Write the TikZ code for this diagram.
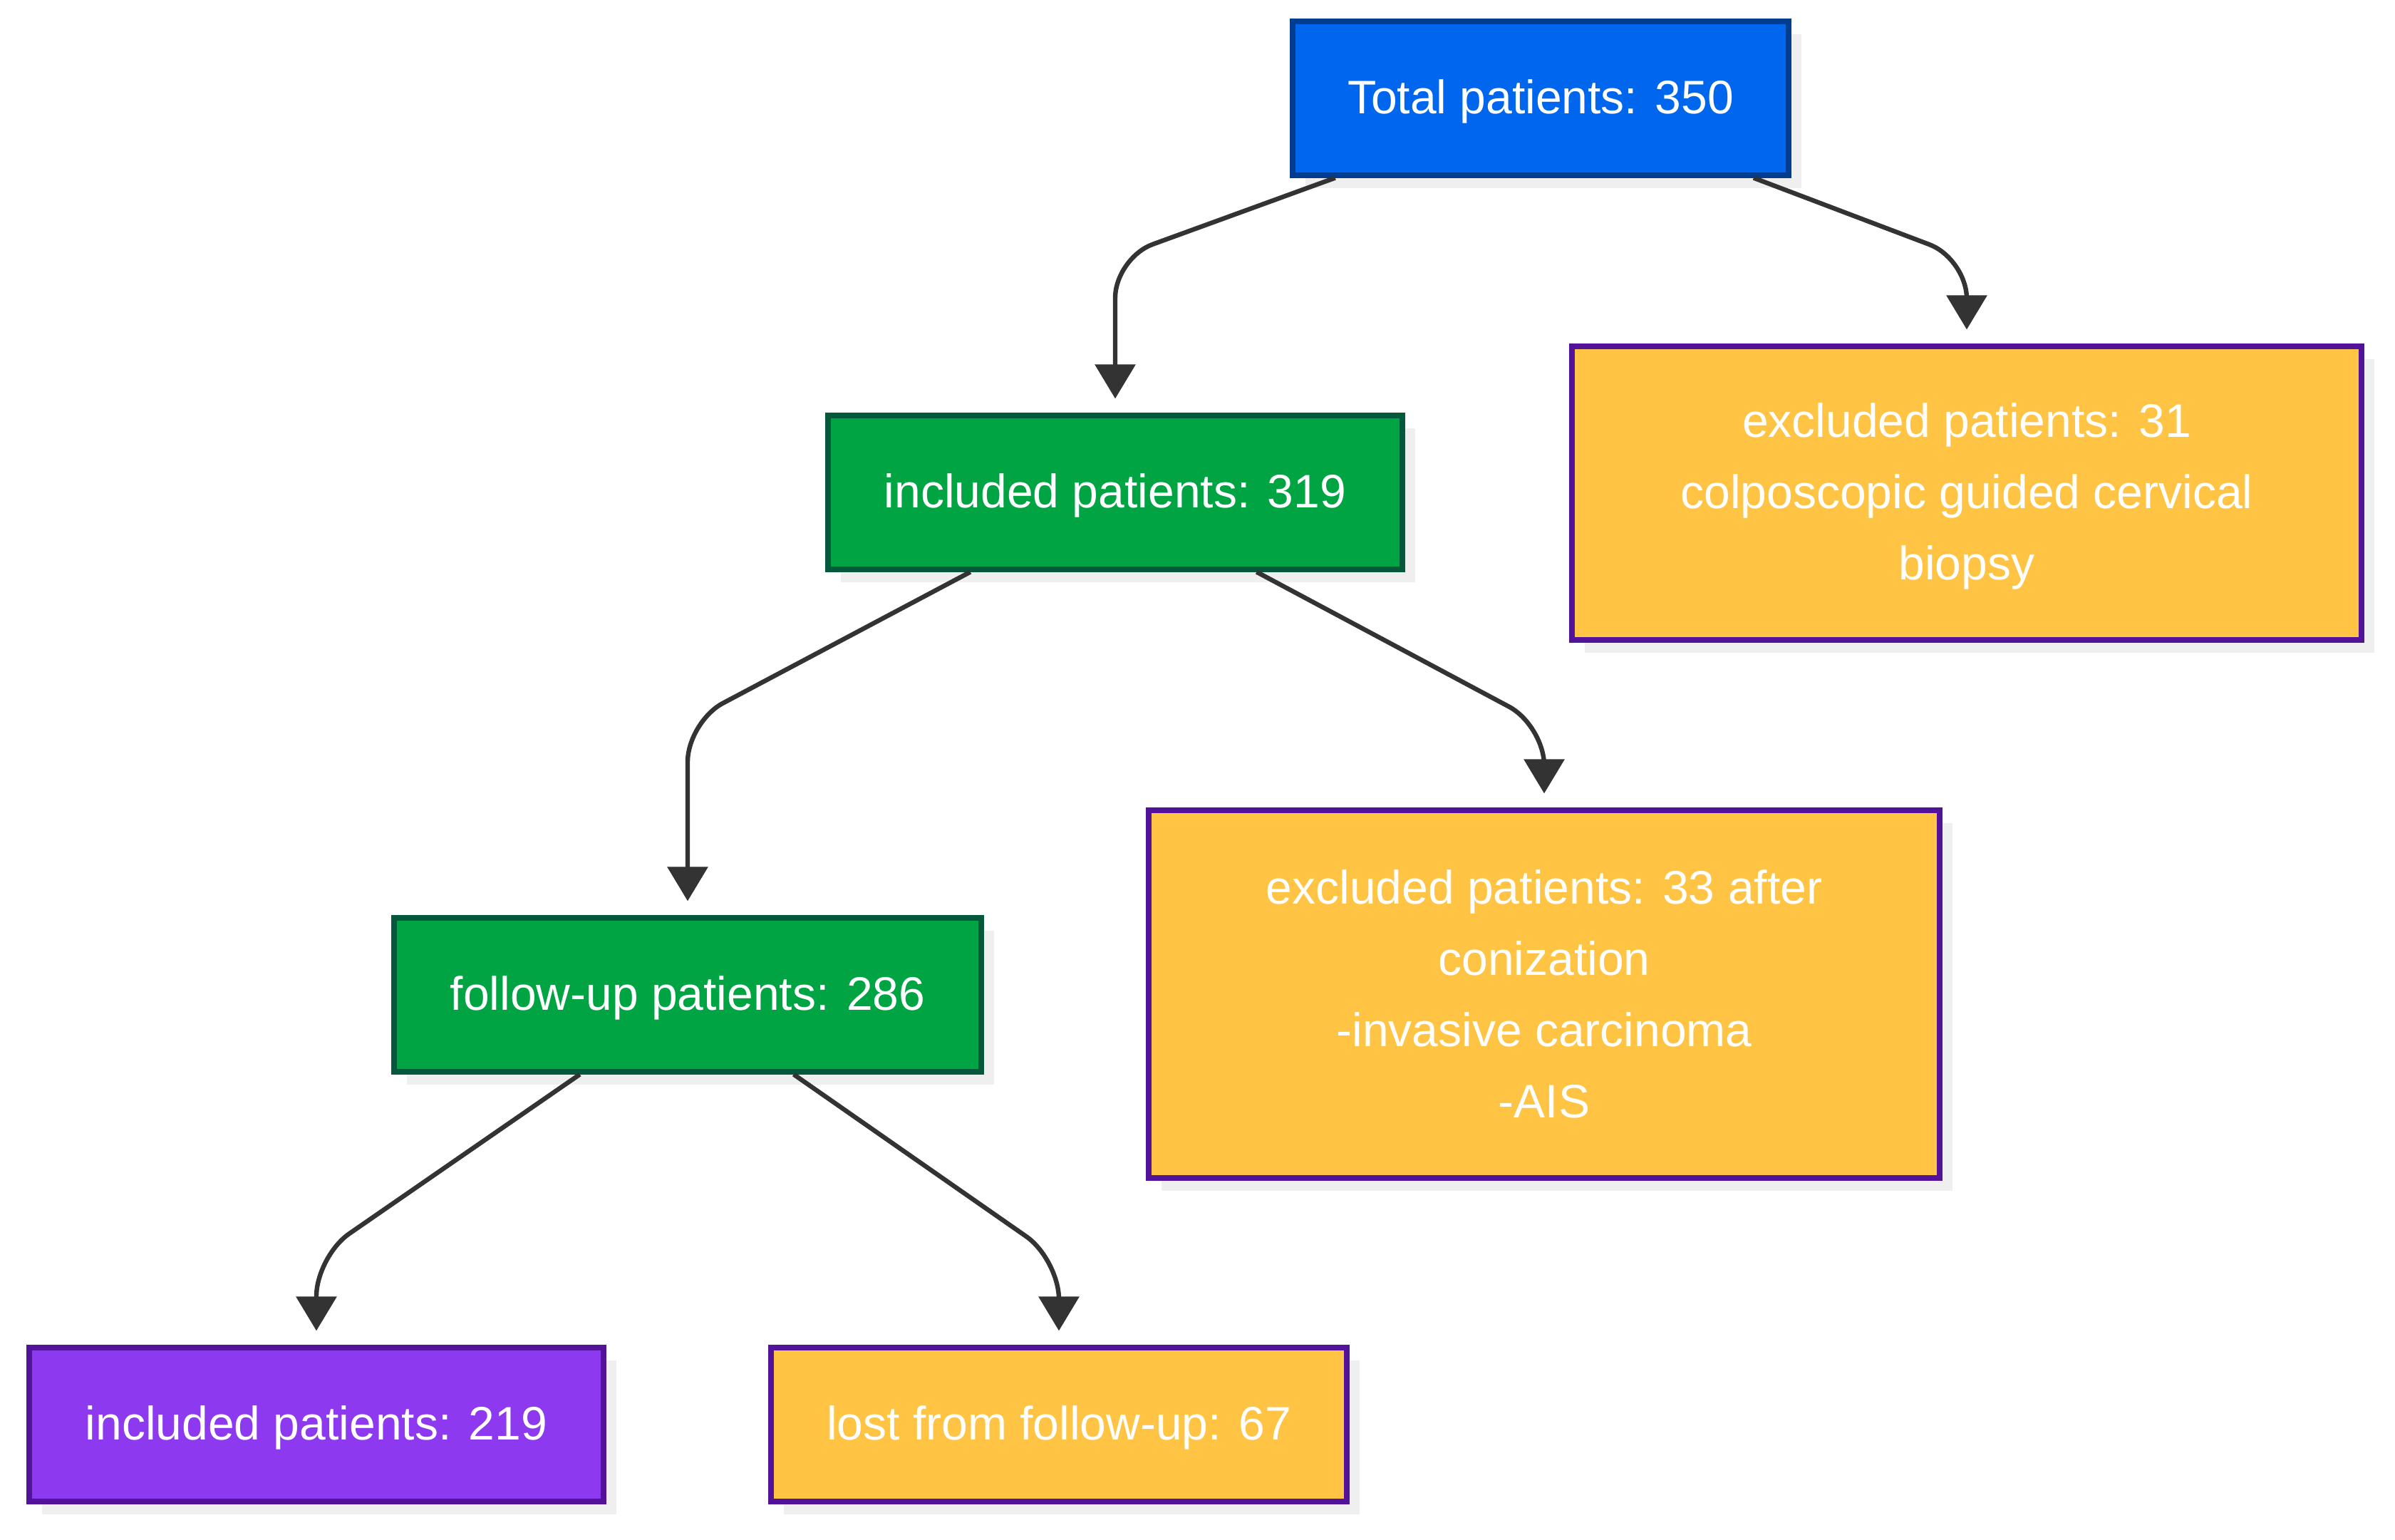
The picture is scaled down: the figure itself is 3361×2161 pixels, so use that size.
\documentclass[tikz,border=0pt]{standalone}
\usepackage{fontspec}
\setmainfont{Liberation Sans}
\usetikzlibrary{arrows.meta,shadows,calc}
\definecolor{bluefill}{HTML}{0066EE}
\definecolor{blueline}{HTML}{003C8F}
\definecolor{greenfill}{HTML}{00A443}
\definecolor{greenline}{HTML}{05583C}
\definecolor{yellowfill}{HTML}{FFC444}
\definecolor{purpleline}{HTML}{52139A}
\definecolor{purplefill}{HTML}{8C39F0}
\definecolor{shadowgray}{HTML}{EFEFEF}
\definecolor{linecol}{HTML}{333333}
\tikzset{
  flowbox/.style={draw, line width=1.8pt, rectangle, inner sep=0pt, align=center,
    text=white, font=\fontsize{16.5pt}{25pt}\selectfont,
    drop shadow={shadow xshift=4.5pt, shadow yshift=-4.5pt, fill=shadowgray, opacity=1}},
  oneline/.style={text height=14pt},
  bluebox/.style={flowbox, fill=bluefill, draw=blueline},
  greenbox/.style={flowbox, fill=greenfill, draw=greenline},
  yellowbox/.style={flowbox, fill=yellowfill, draw=purpleline},
  purplebox/.style={flowbox, fill=purplefill, draw=purpleline},
  conn/.style={draw=linecol, line width=1.6pt, rounded corners=14pt,
    -{Triangle[length=12pt,width=14pt]}}
}
\begin{document}
\begin{tikzpicture}[x=0.25pt,y=-0.25pt]
\useasboundingbox (0,0) rectangle (3361,2161);
\fill[white] (0,0) rectangle (3361,2161);

\node[bluebox, oneline, minimum width=174pt, minimum height=54pt] (total) at (2162,138) {Total patients: 350};
\node[greenbox, oneline, minimum width=201.5pt, minimum height=54pt] (inc) at (1565,691) {included patients: 319};
\node[yellowbox, text height=64pt, minimum width=277pt, minimum height=103pt] (exa) at (2760,692) {excluded patients: 31\\colposcopic guided cervical\\biopsy};
\node[greenbox, oneline, minimum width=206pt, minimum height=54pt] (fu) at (965,1396) {follow-up patients: 286};
\node[yellowbox, minimum width=277.5pt, minimum height=129pt] (exb) at (2167,1395) {excluded patients: 33 after\\conization\\-invasive carcinoma\\-AIS};
\node[purplebox, oneline, minimum width=201.5pt, minimum height=54pt] (fin) at (444,1999) {included patients: 219};
\node[yellowbox, oneline, minimum width=202pt, minimum height=54pt] (lost) at (1486,1999) {lost from follow-up: 67};

\coordinate (c1) at (1565,362);
\coordinate (c2) at (2760,363);
\coordinate (c3) at (965,1013);
\coordinate (c4) at (2167,1018);
\coordinate (c5) at (444,1763);
\coordinate (c6) at (1486,1767);

\draw[conn] ($(total.south west)!0.09!(total.south east)$) -- (c1) -- ([yshift=5pt]inc.north);
\draw[conn] ($(total.south west)!0.925!(total.south east)$) -- (c2) -- ([yshift=5pt]exa.north);
\draw[conn] ($(inc.south west)!0.25!(inc.south east)$) -- (c3) -- ([yshift=5pt]fu.north);
\draw[conn] ($(inc.south west)!0.744!(inc.south east)$) -- (c4) -- ([yshift=5pt]exb.north);
\draw[conn] ($(fu.south west)!0.318!(fu.south east)$) -- (c5) -- ([yshift=5pt]fin.north);
\draw[conn] ($(fu.south west)!0.679!(fu.south east)$) -- (c6) -- ([yshift=5pt]lost.north);
\end{tikzpicture}
\end{document}
